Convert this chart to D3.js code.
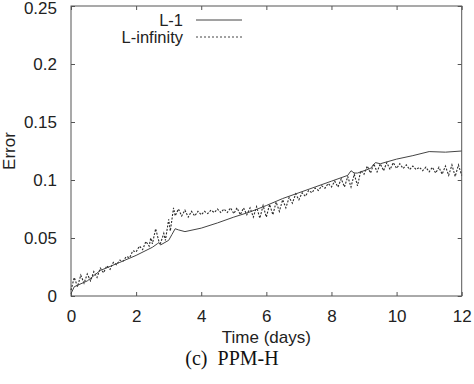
<!DOCTYPE html>
<html>
<head>
<meta charset="utf-8">
<script src="https://cdn.jsdelivr.net/npm/d3@7"></script>
<style>
  body { margin: 0; background: #fff; }
  svg text { font-family: "Liberation Sans", Arial, sans-serif; }
</style>
</head>
<body>
<div id="chart"></div>
<script>
// L-1 error (solid)
const l1Time  = [0, 0.1, 0.5, 0.9, 1.5, 2.0, 2.5, 2.65, 2.7, 2.75, 3.0, 3.1, 3.2, 3.3, 3.5, 4.0, 4.5, 5.0, 5.5, 6.0, 6.5, 7.0, 7.5, 8.0, 8.5, 8.6, 8.7, 8.8, 9.0, 9.2, 9.35, 9.5, 10.0, 10.5, 11.0, 11.5, 12.0];
const l1Error = [0.002, 0.008, 0.013, 0.022, 0.029, 0.035, 0.042, 0.045, 0.046, 0.044, 0.048, 0.053, 0.058, 0.057, 0.0555, 0.0585, 0.063, 0.068, 0.0725, 0.078, 0.084, 0.089, 0.094, 0.099, 0.104, 0.108, 0.106, 0.106, 0.108, 0.110, 0.115, 0.114, 0.118, 0.121, 0.1245, 0.124, 0.125];

// L-infinity error (dashed, oscillating)
const linfTime = [0, 0.1, 0.2, 0.3, 0.4, 0.5, 0.6, 0.7, 0.8, 0.9, 1.0, 1.1, 1.2, 1.3, 1.4, 1.5, 1.6, 1.7, 1.8, 1.9, 2.0,
  2.1, 2.2, 2.3, 2.4, 2.45, 2.5, 2.6, 2.7, 2.75, 2.85, 2.9, 3.0, 3.05, 3.15, 3.2, 3.3, 3.4, 3.5, 3.6, 3.7, 3.8, 3.9, 4.0,
  4.1, 4.2, 4.3, 4.4, 4.5, 4.6, 4.7, 4.8, 4.9, 5.0, 5.1, 5.2, 5.3, 5.4, 5.5, 5.6, 5.7, 5.8, 5.9, 6.0,
  6.1, 6.2, 6.3, 6.4, 6.5, 6.6, 6.7, 6.8, 6.9, 7.0, 7.1, 7.2, 7.3, 7.4, 7.5, 7.6, 7.7, 7.8, 7.9, 8.0,
  8.1, 8.2, 8.3, 8.4, 8.5, 8.6, 8.7, 8.8, 8.9, 9.0, 9.1, 9.2, 9.3, 9.4, 9.5, 9.6, 9.7, 9.8, 9.9, 10.0,
  10.1, 10.2, 10.3, 10.4, 10.5, 10.6, 10.7, 10.8, 10.9, 11.0, 11.1, 11.2, 11.3, 11.4, 11.5, 11.6, 11.7, 11.8, 11.9, 12.0];
const linfError = [0.005, 0.016, 0.008, 0.018, 0.011, 0.019, 0.013, 0.021, 0.016, 0.024, 0.020, 0.026, 0.023, 0.029, 0.027, 0.031, 0.030, 0.034, 0.033, 0.039, 0.038,
  0.043, 0.040, 0.047, 0.043, 0.050, 0.045, 0.058, 0.047, 0.0455, 0.054, 0.048, 0.066, 0.056, 0.076, 0.069, 0.075, 0.069, 0.074, 0.068, 0.073, 0.069, 0.073, 0.070,
  0.073, 0.071, 0.074, 0.072, 0.075, 0.072, 0.075, 0.072, 0.076, 0.071, 0.076, 0.070, 0.076, 0.070, 0.076, 0.068, 0.077, 0.067, 0.078, 0.068,
  0.079, 0.070, 0.081, 0.073, 0.083, 0.076, 0.085, 0.080, 0.088, 0.083, 0.089, 0.086, 0.091, 0.089, 0.093, 0.091, 0.095, 0.093, 0.097, 0.094,
  0.099, 0.094, 0.101, 0.094, 0.103, 0.094, 0.105, 0.095, 0.108, 0.105, 0.112, 0.106, 0.114, 0.107, 0.114, 0.108, 0.115, 0.109, 0.115, 0.110,
  0.114, 0.110, 0.113, 0.109, 0.112, 0.109, 0.111, 0.108, 0.111, 0.107, 0.111, 0.106, 0.111, 0.105, 0.112, 0.104, 0.113, 0.103, 0.113, 0.104];

const xTicks = [0, 2, 4, 6, 8, 10, 12];
const yTicks = [0, 0.05, 0.1, 0.15, 0.2, 0.25];
const seriesNames = ["L-1", "L-infinity"];

const margin = { top: 6, right: 12.3, bottom: 88, left: 71 };
const totalW = 474, totalH = 384;
const width = totalW - margin.left - margin.right,
    height = totalH - margin.top - margin.bottom;

const svg = d3.select("#chart").append("svg")
    .attr("width", totalW)
    .attr("height", totalH);

const g = svg.append("g")
    .attr("transform", "translate(" + margin.left + "," + margin.top + ")");

const x = d3.scaleLinear().domain([0, 12]).range([0, width]);
const y = d3.scaleLinear().domain([0, 0.25]).range([height, 0]);

const fmtY = d => (d === 0 ? "0" : d3.format("")(d));

// axes with inward ticks (gnuplot style), mirrored on top and right
const axisStyle = sel => {
    sel.select(".domain").remove();
    sel.selectAll(".tick line").attr("stroke", "#555");
    sel.selectAll(".tick text").attr("fill", "#222").style("font-size", "17px");
};

g.append("g")
    .attr("transform", "translate(0," + height + ")")
    .call(d3.axisBottom(x).tickValues(xTicks).tickSize(-4).tickPadding(14).tickFormat(d3.format("d")))
    .call(axisStyle);

g.append("g")
    .call(d3.axisLeft(y).tickValues(yTicks).tickSize(-4).tickPadding(14).tickFormat(fmtY))
    .call(axisStyle)
    .selectAll(".tick text")
    .attr("dy", d => (d === 0.25 ? "0.42em" : "0.32em"));

g.append("g")
    .call(d3.axisTop(x).tickValues(xTicks).tickSize(-4).tickFormat(""))
    .call(axisStyle);

g.append("g")
    .attr("transform", "translate(" + width + ",0)")
    .call(d3.axisRight(y).tickValues(yTicks).tickSize(-4).tickFormat(""))
    .call(axisStyle);

// frame
g.append("rect")
    .attr("x", 0).attr("y", 0)
    .attr("width", width).attr("height", height)
    .attr("fill", "none")
    .attr("stroke", "#555")
    .attr("stroke-width", 1);

const line = d3.line()
    .x(d => x(d[0]))
    .y(d => y(d[1]));

const l1Data = l1Time.map((t, i) => [t, l1Error[i]]);
const linfData = linfTime.map((t, i) => [t, linfError[i]]);

g.append("path")
    .datum(linfData)
    .attr("d", line)
    .attr("fill", "none")
    .attr("stroke", "#2a2a2a")
    .attr("stroke-width", 1.1)
    .attr("stroke-dasharray", "2,1.5");

g.append("path")
    .datum(l1Data)
    .attr("d", line)
    .attr("fill", "none")
    .attr("stroke", "#444")
    .attr("stroke-width", 1);

// legend
const legend = svg.append("g");
const legendRows = [
    { name: seriesNames[0], dash: null, y: 20 },
    { name: seriesNames[1], dash: "2,2", y: 37 }
];
legendRows.forEach(r => {
    legend.append("text")
        .attr("x", 183)
        .attr("y", r.y + 6)
        .attr("text-anchor", "end")
        .attr("fill", "#222")
        .style("font-size", "16.5px")
        .text(r.name);
    legend.append("line")
        .attr("x1", 196).attr("x2", 242)
        .attr("y1", r.y).attr("y2", r.y)
        .attr("stroke", "#444")
        .attr("stroke-width", 1)
        .attr("stroke-dasharray", r.dash);
});

// axis titles
svg.append("text")
    .attr("x", margin.left + width / 2)
    .attr("y", 343)
    .attr("text-anchor", "middle")
    .attr("fill", "#222")
    .style("font-size", "17px")
    .text("Time (days)");

svg.append("text")
    .attr("transform", "translate(15," + (margin.top + height / 2) + ") rotate(-90)")
    .attr("text-anchor", "middle")
    .attr("fill", "#222")
    .style("font-size", "17px")
    .text("Error");

// caption
svg.append("text")
    .attr("x", 232)
    .attr("y", 365)
    .attr("text-anchor", "middle")
    .attr("fill", "#111")
    .style("font-family", "'Liberation Serif', 'Times New Roman', serif")
    .style("font-size", "20px")
    .style("white-space", "pre")
    .text("(c)  PPM-H");
</script>
</body>
</html>
